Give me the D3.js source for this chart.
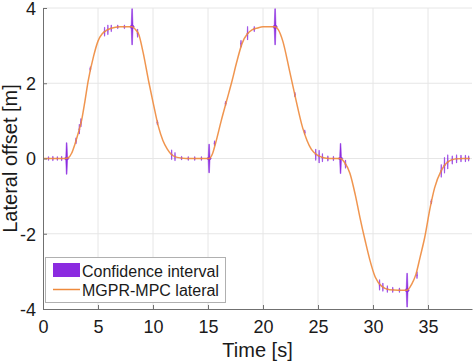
<!DOCTYPE html>
<html><head><meta charset="utf-8">
<script src="https://cdn.jsdelivr.net/npm/d3@7"></script>
<style>body{margin:0;background:#fff}svg{display:block}text{font-family:"Liberation Sans",Arial,sans-serif}</style>
</head><body><svg id="c" width="474" height="364"></svg>
<script>
// ---- data ----
const timeS = [0,0.5,1.0,1.5,2.0,2.3,2.6,2.9,3.2,3.5,3.8,4.1,4.6,5.0,5.4,5.8,6.2,6.6,7.0,8.1,8.4,8.7,9.1,9.6,10.0,10.5,10.9,11.3,11.7,12.2,13,14,15.1,15.4,15.7,16.2,16.7,17.2,17.6,18.1,18.6,19.0,19.5,20,21.1,21.4,21.8,22.4,23.0,23.6,24.0,24.4,25.0,25.5,26,27.05,27.4,27.9,28.4,28.8,29.3,29.7,30.2,30.8,31.5,32.3,33.1,33.5,33.9,34.3,34.7,35.2,35.6,36.2,36.8,37.5,38.2,38.8];
const lateral = [0,0,0,0,0,0.02,0.14,0.38,0.67,1.0,1.5,2.05,2.72,3.12,3.32,3.41,3.46,3.49,3.5,3.5,3.43,3.3,2.82,2.06,1.5,0.84,0.48,0.25,0.1,0.03,0,0,0,0.12,0.42,1.0,1.54,2.08,2.55,3.06,3.32,3.42,3.47,3.5,3.5,3.42,3.12,2.35,1.55,0.82,0.48,0.24,0.08,0.02,0,0,-0.1,-0.39,-0.98,-1.55,-2.2,-2.68,-3.15,-3.4,-3.49,-3.5,-3.5,-3.35,-3.08,-2.6,-2.1,-1.3,-0.78,-0.32,-0.09,-0.01,0,0];
// confidence-interval bursts: time, centre, half-width
const ciTime   = [0.5,0.9,1.3,1.7,2.15,3.0,3.3,3.45,4.3,5.6,5.9,6.2,6.8,7.4,8.1,8.6,10.4,11.7,12.0,12.6,13.2,13.8,14.4,15.1,15.6,16.6,18.0,18.6,19.2,21.1,22.9,23.8,24.8,25.1,25.4,25.9,26.4,27.05,27.5,30.6,30.9,31.3,31.8,32.4,33.1,34.0,35.3,36.2,36.5,36.8,37.2,37.6,38.0,38.4,38.7];
const ciCenter = [0,0,0,0,0,0.47,0.78,0.95,2.38,3.37,3.42,3.46,3.5,3.5,3.5,3.33,0.95,0.1,0.05,0.01,0,0,0,0,0.4,1.46,3.05,3.33,3.44,3.5,1.7,0.7,0.1,0.05,0.02,0,0,0,-0.15,-3.36,-3.42,-3.47,-3.49,-3.5,-3.5,-3.1,-1.15,-0.33,-0.18,-0.09,-0.04,-0.01,0,0,0];
const ciHalf   = [0.05,0.06,0.05,0.06,0.42,0.08,0.13,0.11,0.06,0.12,0.13,0.09,0.05,0.05,0.48,0.11,0.06,0.13,0.11,0.05,0.05,0.05,0.05,0.38,0.07,0.06,0.09,0.18,0.07,0.48,0.06,0.06,0.15,0.17,0.11,0.07,0.06,0.4,0.11,0.14,0.11,0.09,0.07,0.06,0.45,0.09,0.06,0.17,0.21,0.19,0.11,0.11,0.09,0.09,0.07];
const xTicks = [0,5,10,15,20,25,30,35];
const yTicks = [-4,-2,0,2,4];
const legendLabels = ["Confidence interval","MGPR-MPC lateral"];

// ---- drawing ----
const svg = d3.select("#c");
const m = {l:43, r:472, t:8, b:309};
const x = d3.scaleLinear().domain([0,39]).range([m.l, m.r]);
const y = d3.scaleLinear().domain([-4,4]).range([m.b, m.t]);
const purple = "#8b2be0", orange = "#ee8a3c";

// grid
svg.append("g").selectAll("line").data(xTicks.filter(d=>d>0)).join("line")
  .attr("x1",d=>x(d)).attr("x2",d=>x(d)).attr("y1",m.t).attr("y2",m.b)
  .attr("stroke","#e6e6e6").attr("stroke-width",1);
svg.append("g").selectAll("line").data(yTicks.filter(d=>d>-4)).join("line")
  .attr("x1",m.l).attr("x2",m.r).attr("y1",d=>y(d)).attr("y2",d=>y(d))
  .attr("stroke","#e6e6e6").attr("stroke-width",1);

// confidence interval bursts
const area = d3.area().x(d=>x(d[0])).y0(d=>y(d[1])).y1(d=>y(d[2]));
const ciG = svg.append("g");
ciTime.forEach((t,i)=>{
  const c = ciCenter[i], h = ciHalf[i];
  const big = h > 0.3;
  const w = big ? 0.2 : 0.08;
  const k = big ? 0.03 : 0.012;
  const pts = [[t-w,c,c],[t-w*0.4,c-h*0.12,c+h*0.12],[t-k,c-h,c+h],[t+k,c-h,c+h],[t+w*0.4,c-h*0.12,c+h*0.12],[t+w,c,c]];
  ciG.append("path").datum(pts).attr("d",area).attr("fill",purple).attr("stroke",purple).attr("stroke-width",0.5).attr("stroke-linejoin","round");
});

// line
const line = d3.line().x((d,i)=>x(timeS[i])).y(d=>y(d)).curve(d3.curveMonotoneX);
svg.append("path").datum(lateral).attr("d",line).attr("fill","none")
  .attr("stroke",orange).attr("stroke-width",1.5).attr("stroke-opacity",0.9);

// axes
const ax = svg.append("g").attr("transform",`translate(0,${m.b})`)
  .call(d3.axisBottom(x).tickValues(xTicks).tickSizeInner(-4).tickSizeOuter(0).tickPadding(10));
const ay = svg.append("g").attr("transform",`translate(${m.l},0)`)
  .call(d3.axisLeft(y).tickValues(yTicks).tickSizeInner(-4).tickSizeOuter(0).tickPadding(7).tickFormat(d=>d<0?"-"+Math.abs(d):d));
[ax,ay].forEach(g=>{
  g.select(".domain").attr("stroke","#707070");
  g.selectAll(".tick line").attr("stroke","#707070");
  g.selectAll(".tick text").attr("fill","#1a1a1a").style("font-size","18px").style("font-family",'"Liberation Sans",Arial,sans-serif');
});
ax.selectAll(".tick text").attr("dy","0.75em");
ay.selectAll(".tick text").attr("dy","0.36em");

// axis titles
svg.append("text").attr("x",(m.l+m.r)/2).attr("y",357).attr("text-anchor","middle")
  .style("font-size","20px").attr("fill","#1a1a1a").text("Time [s]");
svg.append("text").attr("transform",`translate(17,${(m.t+m.b)/2}) rotate(-90)`).attr("text-anchor","middle")
  .style("font-size","20px").attr("fill","#1a1a1a").text("Lateral offset [m]");

// legend
const lg = svg.append("g");
lg.append("rect").attr("x",45.5).attr("y",257.5).attr("width",180).attr("height",45)
  .attr("fill","#fff").attr("stroke","#b0b0b0");
lg.append("rect").attr("x",53).attr("y",263).attr("width",27).attr("height",14).attr("fill",purple);
lg.append("line").attr("x1",53).attr("x2",80).attr("y1",289.5).attr("y2",289.5).attr("stroke",orange).attr("stroke-width",1.5);
lg.selectAll("text.l").data(legendLabels).join("text").attr("class","l")
  .attr("x",82).attr("y",(d,i)=>277+i*19).style("font-size","16px").attr("fill","#1a1a1a").text(d=>d);
</script></body></html>
